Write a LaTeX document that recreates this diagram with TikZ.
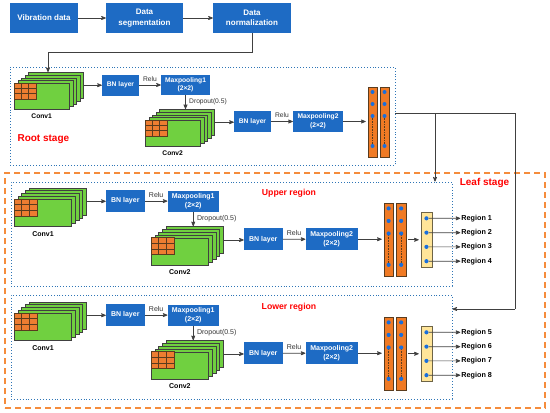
\documentclass[tikz,border=0pt]{standalone}
\usepackage{fontspec}
\setmainfont{Liberation Sans}
\usetikzlibrary{arrows}
\usetikzlibrary{positioning}
\definecolor{boxblue}{RGB}{30,107,196}
\definecolor{convgreen}{RGB}{112,208,64}
\definecolor{gridorange}{RGB}{237,125,49}
\definecolor{fcorange}{RGB}{240,122,36}
\definecolor{fcedge}{RGB}{90,60,30}
\definecolor{outyellow}{RGB}{255,229,153}
\definecolor{outedge}{RGB}{110,100,70}
\definecolor{dotblue}{RGB}{25,110,220}
\definecolor{frameblue}{RGB}{46,117,182}
\definecolor{leaforange}{RGB}{245,140,60}
\tikzset{
	proc box/.style={fill=boxblue,text=white,align=center,inner sep=1pt,
		font=\fontsize{6.7}{8.5}\selectfont\bfseries},
	top box/.style={proc box,font=\fontsize{8}{10.5}\selectfont\bfseries},
	conv layer/.style={draw=black!75,fill=convgreen,line width=0.4pt,
		minimum width=55pt,minimum height=26pt,anchor=north west,inner sep=0pt},
	grid line/.style={draw=fcedge,line width=0.4pt},
	fc col/.style={draw=fcedge,fill=fcorange,line width=0.6pt,
		minimum width=9pt,minimum height=70pt,inner sep=0pt},
	out col/.style={draw=outedge,fill=outyellow,line width=0.6pt,
		minimum width=10.5pt,minimum height=52pt,inner sep=0pt},
	dot node/.style={circle,fill=dotblue,minimum size=4pt,inner sep=0pt},
	stage frame/.style={draw=frameblue,dotted,line width=0.9pt,inner sep=0pt},
	leaf frame/.style={draw=leaforange,dash pattern=on 6pt off 4pt,line width=1.2pt,inner sep=0pt},
	small label/.style={font=\fontsize{6.7}{8}\selectfont,text=black!80},
	conv label/.style={font=\fontsize{6.7}{8}\selectfont\bfseries},
	stage label/.style={text=red,font=\fontsize{10}{12}\selectfont\bfseries},
	region label/.style={font=\fontsize{6.9}{8}\selectfont\bfseries,anchor=west,inner sep=1pt},
	link/.style={draw=black!75,line width=0.7pt}
}

\begin{document}
\begin{tikzpicture}[x=1pt,y=-1pt,>=stealth']
      \useasboundingbox (0,0) rectangle (550,413);

      % preprocessing
      \node[top box,minimum width=68pt,minimum height=30pt] (vib) at (44,18) {Vibration data};
      \node[top box,minimum width=77pt,minimum height=30pt] (seg) at (144.5,18) {Data\\segmentation};
      \node[top box,minimum width=78pt,minimum height=30pt] (norm) at (252,18) {Data\\normalization};
      \draw[link,->] (vib) -- (seg);
      \draw[link,->] (seg) -- (norm);

      % frames
      \node[stage frame,minimum width=385pt,minimum height=98pt] (root) at (202.5,116) {};
      \node[leaf frame,minimum width=540pt,minimum height=235pt] (leaf) at (275,290.5) {};
      \node[stage frame,minimum width=441pt,minimum height=104pt] (upper) at (231.5,234) {};
      \node[stage frame,minimum width=441pt,minimum height=104pt] (lower) at (231.5,347) {};

      \node[stage label,anchor=west] (rootlbl) at (14,139) {Root stage};
      \node[stage label] (leaflbl) at (484.5,183) {Leaf stage};
      \node[stage label,font=\fontsize{8.7}{10}\selectfont\bfseries] (upperlbl) at (289,193) {Upper region};
      \node[stage label,font=\fontsize{8.7}{10}\selectfont\bfseries] (lowerlbl) at (289,307) {Lower region};

      % one network per stage
      \foreach \p/\oy/\s in {r/83/1,u/199/1.045,l/313/1.045} {
        \begin{scope}[shift={(14,\oy)},scale=\s,transform shape]
          \foreach \c/\cx/\cy in {1/0/0,2/131/37} {
            \foreach \k in {4,3,2,1,0}
              \node[conv layer] (\p-c\c-\k) at (\cx+3.5*\k,\cy-2.75*\k) {};
            \fill[gridorange] (\cx,\cy) rectangle (\cx+22,\cy+16);
            \draw[grid line] (\cx,\cy) rectangle (\cx+22,\cy+16);
            \foreach \g in {1,2} {
              \draw[grid line] (\cx+7.33*\g,\cy) -- (\cx+7.33*\g,\cy+16);
              \draw[grid line] (\cx,\cy+5.33*\g) -- (\cx+22,\cy+5.33*\g);
            }
            \node[conv label,below=1pt of \p-c\c-0] (\p-lc\c) {Conv\c};
          }
          \node[proc box,minimum width=37pt,minimum height=21pt] (\p-bn1) at (106.5,2) {BN layer};
          \node[proc box,minimum width=49pt,minimum height=20pt] (\p-mp1) at (171.5,2) {Maxpooling1\\(2×2)};
          \node[proc box,minimum width=37pt,minimum height=21pt] (\p-bn2) at (238.5,38.5) {BN layer};
          \node[proc box,minimum width=50pt,minimum height=21pt] (\p-mp2) at (304,38.5) {Maxpooling2\\(2×2)};
          \node[fc col] (\p-fc1) at (358.5,39) {};
          \node[fc col] (\p-fc2) at (370.5,39) {};
          \foreach \fx in {358.5,370.5} {
            \draw[fcedge,densely dotted,line width=0.6pt] (\fx,33) -- (\fx,63);
            \foreach \dy in {9,21,33,63}
              \fill[dotblue] (\fx,\dy) circle (2pt);
          }

          \draw[link,->] (\p-c1-4.east) -- (\p-c1-4.east -| \p-bn1.west);
          \draw[link,->] (\p-bn1) -- node[small label,above] (\p-relu1) {Relu} (\p-mp1);
          \draw[link,->] (\p-mp1.south) -- node[small label,right] (\p-drop) {Dropout(0.5)}
            (\p-mp1.south |- \p-c2-4.north);
          \draw[link,->] (\p-c2-4.east) -- (\p-c2-4.east -| \p-bn2.west);
          \draw[link,->] (\p-bn2) -- node[small label,above] (\p-relu2) {Relu} (\p-mp2);
          \draw[link,->,shorten >=2pt] (\p-mp2.east) -- (\p-mp2.east -| \p-fc1.west);
        \end{scope}
      }

      % output layers of the leaf stage
      \foreach \p/\oy/\n in {u/199/0,l/313/4} {
        \begin{scope}[shift={(14,\oy)},scale=1.045,transform shape]
          \node[out col] (\p-out) at (394.7,39) {};
          \draw[link,->,shorten <=1.5pt,shorten >=2pt] (\p-fc2.east) -- (\p-out.west);
          \foreach \j/\dy in {1/18.5,2/32.2,3/45.8,4/59.5} {
            \pgfmathtruncatemacro\r{\n+\j}
            \node[dot node] (\p-o\j) at (394.7,\dy) {};
            \node[region label] (\p-reg\j) at (427,\dy) {Region \r};
            \draw[link,->] (\p-o\j) -- (\p-reg\j);
          }
        \end{scope}
      }

      % connections between stages
      \coordinate (drop) at (48,52);
      \coordinate (j1) at (435,113);
      \coordinate (j2) at (515,113);
      \coordinate (j3) at (515,309);
      \draw[link,->] (norm.south) |- (drop) -- (drop |- r-c1-4.north);
      \draw[link] (root.east |- j1) -- (j2) -- (j3);
      \draw[link,->] (j3) -- (j3 -| lower.east);
      \draw[link,->] (j1) -- (j1 |- upper.north);
\end{tikzpicture}
\end{document}
